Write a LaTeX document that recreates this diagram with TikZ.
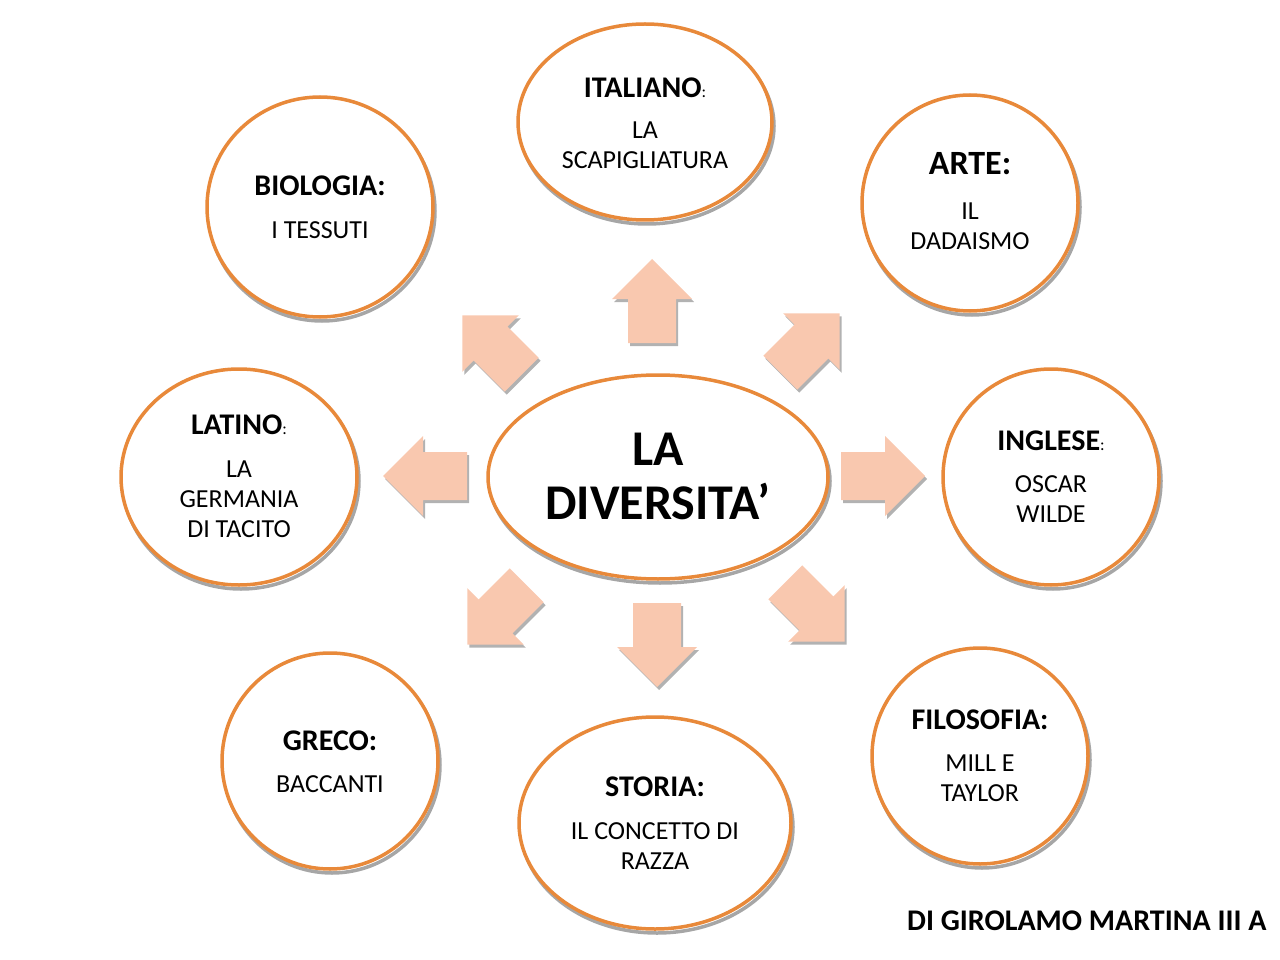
\documentclass[tikz,border=0pt]{standalone}
\usepackage{fontspec}
\setmainfont{Carlito}
\begin{document}
\begin{tikzpicture}[x=1pt,y=-1pt,
  bubshadow/.style={draw=gray!70, line width=3.5pt},
  hd/.style={font=\fontsize{30}{33}\selectfont\bfseries},
  tx/.style={font=\fontsize{26}{30}\selectfont, align=center}]
\useasboundingbox (0,0) rectangle (1280,960);
\definecolor{bord}{HTML}{E8893A}
\definecolor{peach}{HTML}{F9C8AF}
\tikzset{bub/.style={draw=bord, line width=3.5pt, fill=white}}
\newcommand{\bubble}[4]{%
  \draw[bubshadow] (#1+2,#2+4) ellipse [x radius=#3, y radius=#4];
  \draw[bub] (#1,#2) ellipse [x radius=#3, y radius=#4];}
\newcommand{\arrowshape}{(0,-42) -- (40,-2) -- (24,-2) -- (24,42) -- (-24,42) -- (-24,-2) -- (-40,-2) -- cycle}
\newcommand{\blockarrow}[3]{%
  \begin{scope}[shift={(#1+2,#2+3)},rotate=#3]
    \fill[gray!60] \arrowshape;
  \end{scope}
  \begin{scope}[shift={(#1,#2)},rotate=#3]
    \fill[peach] \arrowshape;
  \end{scope}}
% arrows
\blockarrow{652}{301}{0}
\blockarrow{657}{645}{180}
\blockarrow{425}{476}{90}
\blockarrow{883}{476}{-90}
\blockarrow{492}{345}{45}
\blockarrow{810}{343}{-45}
\blockarrow{497}{615}{135}
\blockarrow{815}{612}{-135}
% bubbles
\bubble{658}{477}{170}{102}
\bubble{645}{122}{127}{98}
\bubble{320}{207}{113}{110}
\bubble{970}{203}{108}{108}
\bubble{239}{477}{118}{108}
\bubble{1051}{477}{108}{108}
\bubble{330}{761}{108}{108}
\bubble{655}{823}{136}{106}
\bubble{980}{756}{108}{108}
% texts
\node[font=\fontsize{50}{54}\selectfont\bfseries, align=center] (c) at (658,476) {LA\\DIVERSITA’};
\node[hd] (it) at (645,88) {ITALIANO\textmd{\fontsize{17}{18}\selectfont:}};
\node[tx] (itt) at (645,145) {LA\\SCAPIGLIATURA};
\node[hd] (bi) at (320,186) {BIOLOGIA:};
\node[tx] (bit) at (320,230) {I TESSUTI};
\node[hd,font=\fontsize{34}{36}\selectfont\bfseries] (ar) at (970,164) {ARTE:};
\node[tx] (art) at (970,226) {IL\\DADAISMO};
\node[hd] (la) at (239,425) {LATINO\textmd{\fontsize{17}{18}\selectfont:}};
\node[tx] (lat) at (239,499) {LA\\GERMANIA\\DI TACITO};
\node[hd] (in) at (1051,441) {INGLESE\textmd{\fontsize{17}{18}\selectfont:}};
\node[tx] (int) at (1051,499) {OSCAR\\WILDE};
\node[hd] (gr) at (330,741) {GRECO:};
\node[tx] (grt) at (330,784) {BACCANTI};
\node[hd] (st) at (655,787) {STORIA:};
\node[tx] (stt) at (655,846) {IL CONCETTO DI\\RAZZA};
\node[hd] (fi) at (980,720) {FILOSOFIA:};
\node[tx] (fit) at (980,778) {MILL E\\TAYLOR};
\node[hd, anchor=east] (au) at (1270,921) {DI GIROLAMO MARTINA III A};
\end{tikzpicture}
\end{document}
